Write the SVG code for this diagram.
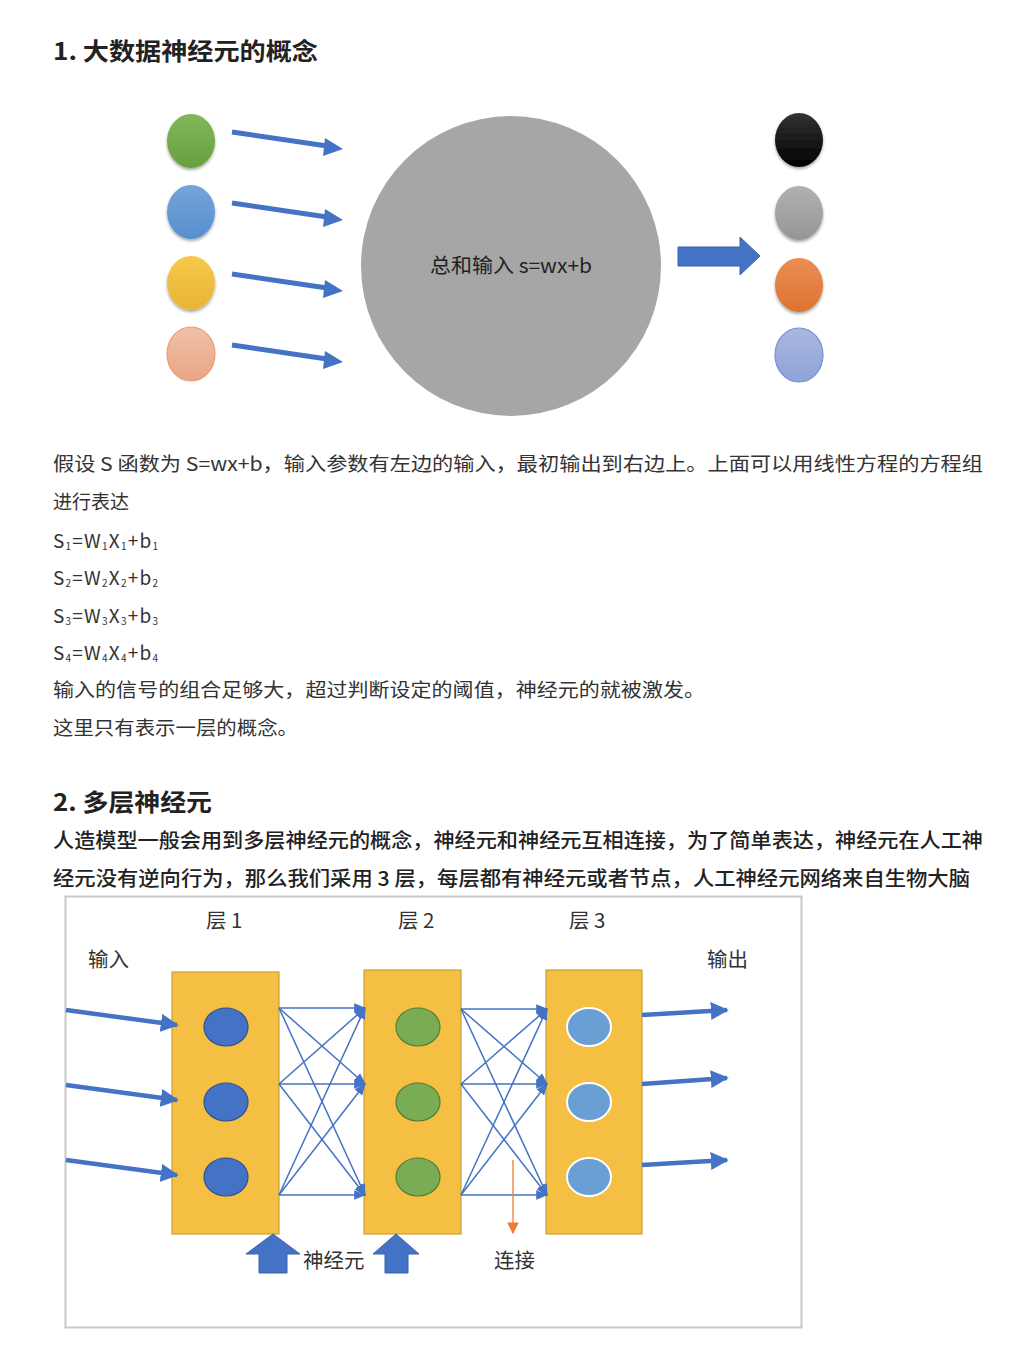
<svg xmlns="http://www.w3.org/2000/svg" width="1010" height="1356" viewBox="0 0 1010 1356">
<style>
.t{font-family:"Noto Sans CJK SC","Noto Sans",sans-serif;fill:#333;font-size:19px}
.h{font-family:"Noto Sans CJK SC","Noto Sans",sans-serif;fill:#222;font-size:24px;font-weight:bold}
.p2{font-family:"Noto Sans CJK SC","Noto Sans",sans-serif;fill:#222;font-size:20px;font-weight:500}
.lb{font-family:"Noto Sans CJK SC","Noto Sans",sans-serif;fill:#333;font-size:20.5px}
.sub{font-size:10px}
.thick{stroke:#4472c4;stroke-width:4.5;fill:none}
.thin{stroke:#4472c4;stroke-width:1.5;fill:none}
.layer{fill:#f4bf42;stroke:#c9a034;stroke-width:1.2}
</style>
<defs>
<marker id="ah" viewBox="0 0 10 10" refX="9" refY="5" markerWidth="4" markerHeight="4" markerUnits="strokeWidth" orient="auto"><path d="M0,0 L10,5 L0,10 z" fill="#4472c4"/></marker>
<marker id="ahs" viewBox="0 0 10 10" refX="9" refY="5" markerWidth="8" markerHeight="8" markerUnits="strokeWidth" orient="auto"><path d="M0,1 L10,5 L0,9 z" fill="#4472c4"/></marker>
<marker id="aho" viewBox="0 0 10 10" refX="9" refY="5" markerWidth="9" markerHeight="9" markerUnits="strokeWidth" orient="auto"><path d="M0,0 L10,5 L0,10 z" fill="#ed7d31"/></marker>
<linearGradient id="gG" x1="0" y1="0" x2="0" y2="1"><stop offset="0" stop-color="#82b75a"/><stop offset="1" stop-color="#67a03e"/></linearGradient>
<linearGradient id="gB" x1="0" y1="0" x2="0" y2="1"><stop offset="0" stop-color="#74a5da"/><stop offset="1" stop-color="#588ecf"/></linearGradient>
<linearGradient id="gY" x1="0" y1="0" x2="0" y2="1"><stop offset="0" stop-color="#f7c84c"/><stop offset="1" stop-color="#e8b534"/></linearGradient>
<linearGradient id="gO" x1="0" y1="0" x2="0" y2="1"><stop offset="0" stop-color="#f0c1aa"/><stop offset="1" stop-color="#e9a585"/></linearGradient>
<linearGradient id="gK" x1="0" y1="0" x2="0" y2="1"><stop offset="0" stop-color="#333"/><stop offset="1" stop-color="#000"/></linearGradient>
<linearGradient id="gA" x1="0" y1="0" x2="0" y2="1"><stop offset="0" stop-color="#b0b0b0"/><stop offset="1" stop-color="#969696"/></linearGradient>
<linearGradient id="gR" x1="0" y1="0" x2="0" y2="1"><stop offset="0" stop-color="#eb8d54"/><stop offset="1" stop-color="#de7330"/></linearGradient>
<linearGradient id="gL" x1="0" y1="0" x2="0" y2="1"><stop offset="0" stop-color="#a8b8e0"/><stop offset="1" stop-color="#8ea3d8"/></linearGradient>
<filter id="sh" x="-30%" y="-30%" width="160%" height="170%"><feDropShadow dx="0" dy="2" stdDeviation="1.5" flood-color="#000" flood-opacity="0.35"/></filter>
</defs>
<rect width="1010" height="1356" fill="#fff"/>

<text class="h" x="53" y="60" textLength="265" lengthAdjust="spacingAndGlyphs">1. 大数据神经元的概念</text>

<g id="inputs">
<ellipse id="in1" cx="191" cy="141" rx="24" ry="27" fill="url(#gG)" filter="url(#sh)"/>
<ellipse id="in2" cx="191" cy="212" rx="24" ry="27" fill="url(#gB)" filter="url(#sh)"/>
<ellipse id="in3" cx="191" cy="283" rx="24" ry="27" fill="url(#gY)" filter="url(#sh)"/>
<ellipse id="in4" cx="191" cy="354" rx="24" ry="27" fill="url(#gO)" stroke="#ed9b6f" stroke-width="1.2"/>
</g>
<g id="sum">
<circle cx="511" cy="266" r="150" fill="#a6a6a6"/>
<text class="t" x="430" y="273" textLength="162" lengthAdjust="spacingAndGlyphs" style="fill:#222;font-size:20px">总和输入 s=wx+b</text>
</g>
<g id="outputs">
<ellipse id="out1" cx="799" cy="140" rx="24" ry="27" fill="url(#gK)" filter="url(#sh)"/>
<ellipse id="out2" cx="799" cy="213" rx="24" ry="27" fill="url(#gA)" filter="url(#sh)"/>
<ellipse id="out3" cx="799" cy="285" rx="24" ry="27" fill="url(#gR)" filter="url(#sh)"/>
<ellipse id="out4" cx="799" cy="355" rx="24" ry="27" fill="url(#gL)" stroke="#7290d8" stroke-width="1.2"/>
</g>
<g id="connectors-top">
<path d="M232,132 L327,146" stroke="#4472c4" stroke-width="5"/><path d="M325,138 L343,149 L323,156 z" fill="#4472c4"/>
<path d="M232,203 L327,217" stroke="#4472c4" stroke-width="5"/><path d="M325,209 L343,220 L323,227 z" fill="#4472c4"/>
<path d="M232,274 L327,288" stroke="#4472c4" stroke-width="5"/><path d="M325,280 L343,291 L323,298 z" fill="#4472c4"/>
<path d="M232,345 L327,359" stroke="#4472c4" stroke-width="5"/><path d="M325,351 L343,362 L323,369 z" fill="#4472c4"/>
<path d="M678,247 L740,247 L740,237 L760,256 L740,275 L740,266 L678,266 z" fill="#4472c4" stroke="#3a62ad" stroke-width="1"/>
</g>

<text class="t" x="53" y="471" textLength="930" lengthAdjust="spacingAndGlyphs">假设 S 函数为 S=wx+b，输入参数有左边的输入，最初输出到右边上。上面可以用线性方程的方程组</text>
<text class="t" x="53" y="509">进行表达</text>
<text class="t" x="53" y="548" textLength="105" lengthAdjust="spacing">S<tspan class="sub" dy="2">1</tspan><tspan dy="-2">=W</tspan><tspan class="sub" dy="2">1</tspan><tspan dy="-2">X</tspan><tspan class="sub" dy="2">1</tspan><tspan dy="-2">+b</tspan><tspan class="sub" dy="2">1</tspan></text>
<text class="t" x="53" y="585" textLength="105" lengthAdjust="spacing">S<tspan class="sub" dy="2">2</tspan><tspan dy="-2">=W</tspan><tspan class="sub" dy="2">2</tspan><tspan dy="-2">X</tspan><tspan class="sub" dy="2">2</tspan><tspan dy="-2">+b</tspan><tspan class="sub" dy="2">2</tspan></text>
<text class="t" x="53" y="623" textLength="105" lengthAdjust="spacing">S<tspan class="sub" dy="2">3</tspan><tspan dy="-2">=W</tspan><tspan class="sub" dy="2">3</tspan><tspan dy="-2">X</tspan><tspan class="sub" dy="2">3</tspan><tspan dy="-2">+b</tspan><tspan class="sub" dy="2">3</tspan></text>
<text class="t" x="53" y="660" textLength="105" lengthAdjust="spacing">S<tspan class="sub" dy="2">4</tspan><tspan dy="-2">=W</tspan><tspan class="sub" dy="2">4</tspan><tspan dy="-2">X</tspan><tspan class="sub" dy="2">4</tspan><tspan dy="-2">+b</tspan><tspan class="sub" dy="2">4</tspan></text>
<text class="t" x="53" y="697" textLength="652" lengthAdjust="spacingAndGlyphs">输入的信号的组合足够大，超过判断设定的阈值，神经元的就被激发。</text>
<text class="t" x="53" y="735" textLength="245" lengthAdjust="spacingAndGlyphs">这里只有表示一层的概念。</text>

<text class="h" x="53" y="811" textLength="159" lengthAdjust="spacingAndGlyphs">2. 多层神经元</text>
<text class="p2" x="53" y="848" textLength="930" lengthAdjust="spacingAndGlyphs">人造模型一般会用到多层神经元的概念，神经元和神经元互相连接，为了简单表达，神经元在人工神</text>
<text class="p2" x="53" y="886" textLength="917" lengthAdjust="spacingAndGlyphs">经元没有逆向行为，那么我们采用 3 层，每层都有神经元或者节点，人工神经元网络来自生物大脑</text>

<rect x="65.5" y="896.5" width="736" height="431" fill="none" stroke="#c8c8c8" stroke-width="2"/>
<text class="lb" x="206" y="928">层 1</text>
<text class="lb" x="398" y="928">层 2</text>
<text class="lb" x="569" y="928">层 3</text>
<text class="lb" x="88" y="967">输入</text>
<text class="lb" x="707" y="967">输出</text>

<g id="layer1">
<rect class="layer" x="172" y="972" width="107" height="262"/>
<ellipse cx="226" cy="1027" rx="22" ry="19" fill="#4472c4" stroke="#2f528f" stroke-width="1.2"/>
<ellipse cx="226" cy="1102" rx="22" ry="19" fill="#4472c4" stroke="#2f528f" stroke-width="1.2"/>
<ellipse cx="226" cy="1177" rx="22" ry="19" fill="#4472c4" stroke="#2f528f" stroke-width="1.2"/>
</g>
<g id="layer2">
<rect class="layer" x="364" y="970" width="97" height="264"/>
<ellipse cx="418" cy="1027" rx="22" ry="19" fill="#7aab55" stroke="#507e32" stroke-width="1.2"/>
<ellipse cx="418" cy="1102" rx="22" ry="19" fill="#7aab55" stroke="#507e32" stroke-width="1.2"/>
<ellipse cx="418" cy="1177" rx="22" ry="19" fill="#7aab55" stroke="#507e32" stroke-width="1.2"/>
</g>
<g id="layer3">
<rect class="layer" x="546" y="970" width="96" height="264"/>
<ellipse cx="589" cy="1027" rx="22" ry="19" fill="#6a9fd3" stroke="#fff" stroke-width="2"/>
<ellipse cx="589" cy="1102" rx="22" ry="19" fill="#6a9fd3" stroke="#fff" stroke-width="2"/>
<ellipse cx="589" cy="1177" rx="22" ry="19" fill="#6a9fd3" stroke="#fff" stroke-width="2"/>
</g>

<g id="connectors">
<line class="thick" x1="66" y1="1010" x2="177" y2="1025" marker-end="url(#ah)"/>
<line class="thick" x1="66" y1="1085" x2="177" y2="1100" marker-end="url(#ah)"/>
<line class="thick" x1="66" y1="1160" x2="177" y2="1175" marker-end="url(#ah)"/>
<line class="thick" x1="642" y1="1015" x2="727" y2="1010" marker-end="url(#ah)"/>
<line class="thick" x1="642" y1="1084" x2="727" y2="1078" marker-end="url(#ah)"/>
<line class="thick" x1="642" y1="1165" x2="727" y2="1160" marker-end="url(#ah)"/>
<g class="thin" marker-end="url(#ahs)">
<line x1="279" y1="1008" x2="365" y2="1008"/>
<line x1="279" y1="1008" x2="365" y2="1084"/>
<line x1="279" y1="1008" x2="365" y2="1195"/>
<line x1="279" y1="1084" x2="365" y2="1008"/>
<line x1="279" y1="1084" x2="365" y2="1084"/>
<line x1="279" y1="1084" x2="365" y2="1195"/>
<line x1="279" y1="1195" x2="365" y2="1008"/>
<line x1="279" y1="1195" x2="365" y2="1084"/>
<line x1="279" y1="1195" x2="365" y2="1195"/>
<line x1="461" y1="1009" x2="547" y2="1009"/>
<line x1="461" y1="1009" x2="547" y2="1084"/>
<line x1="461" y1="1009" x2="547" y2="1195"/>
<line x1="461" y1="1084" x2="547" y2="1009"/>
<line x1="461" y1="1084" x2="547" y2="1084"/>
<line x1="461" y1="1084" x2="547" y2="1195"/>
<line x1="461" y1="1195" x2="547" y2="1009"/>
<line x1="461" y1="1195" x2="547" y2="1084"/>
<line x1="461" y1="1195" x2="547" y2="1195"/>
</g>
<line x1="513" y1="1160" x2="513" y2="1233" stroke="#ed7d31" stroke-width="1.3" marker-end="url(#aho)"/>
<path d="M273,1234 L300,1254 L287,1254 L287,1273 L259,1273 L259,1254 L246,1254 z" fill="#4472c4" stroke="#3a62ad" stroke-width="1"/>
<path d="M396,1234 L419,1254 L408,1254 L408,1273 L385,1273 L385,1254 L373,1254 z" fill="#4472c4" stroke="#3a62ad" stroke-width="1"/>
</g>
<text class="lb" x="303" y="1268">神经元</text>
<text class="lb" x="494" y="1268">连接</text>
</svg>
